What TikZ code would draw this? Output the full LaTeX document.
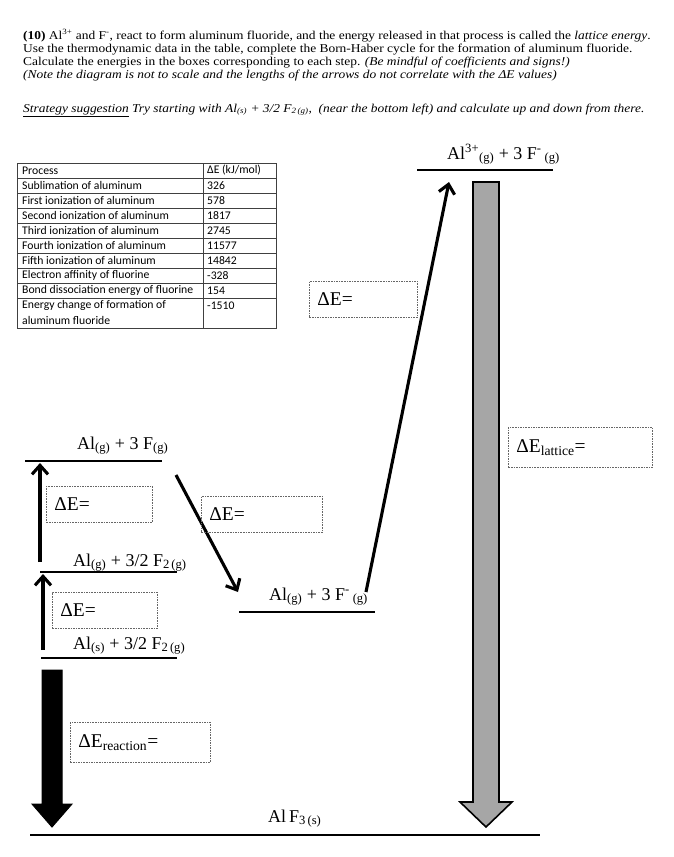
\documentclass[tikz,border=0pt]{standalone}
\usepackage{fontspec}
\setmainfont{Liberation Serif}
\newfontfamily\tabfont{Carlito}
\usetikzlibrary{arrows.meta}
\newcommand\hdrline[1]{\scalebox{1.12}[1]{#1}}
\begin{document}
\begin{tikzpicture}[x=1pt,y=-1pt,
  hdr/.style={anchor=base west,inner sep=0pt,font=\fontsize{12}{13}\selectfont},
  cell/.style={anchor=west,inner sep=0pt,font=\tabfont\fontsize{11.7}{13}\selectfont},
  grid/.style={draw=black!75,line width=0.7pt},
  level/.style={line width=2.4pt},
  lab/.style={anchor=base west,inner sep=0pt,font=\fontsize{18}{20}\selectfont},
  uparrow/.style={line width=3.1pt,-{Straight Barb[length=9pt,width=16pt]}},
  debox/.style={draw=black!60,dash pattern=on 1.6pt off 1pt,line width=0.7pt,
    anchor=north west,inner xsep=8pt,inner ysep=0pt,align=left,
    font=\fontsize{19.5}{21}\selectfont},
  bigblack/.style={fill=black,draw=black,line width=1pt},
  biggray/.style={fill=black!35,draw=black,line width=1.6pt,line join=miter}]
\useasboundingbox (0,0) rectangle (674,857);

% header
\node[hdr] (h1) at (23,39) {\hdrline{\textbf{(10)} Al\textsuperscript{3+} and F\textsuperscript{-}, react to form aluminum fluoride, and the energy released in that process is called the \textit{lattice energy}.}};
\node[hdr] (h2) at (23,52) {\hdrline{Use the thermodynamic data in the table, complete the Born-Haber cycle for the formation of aluminum fluoride.}};
\node[hdr] (h3) at (23,65) {\hdrline{Calculate the energies in the boxes corresponding to each step. \textit{(Be mindful of coefficients and signs!)}}};
\node[hdr] (h4) at (23,78) {\hdrline{\textit{(Note the diagram is not to scale and the lengths of the arrows do not correlate with the ΔE values)}}};
\node[hdr] (h5) at (23,112) {\hdrline{\textit{\underline{Strategy suggestion} Try starting with Al\textsubscript{(s)} + 3/2 F\textsubscript{2\,(g)},\ \ (near the bottom left) and calculate up and down from there.}}};

% table
\draw[grid] (17,163) rectangle (276,328);
\draw[grid] (203,163) -- (203,328);
\foreach \r in {1,...,9} {\draw[grid] (17,163+15*\r) -- (276,163+15*\r);}
\foreach \t [count=\i from 0] in {Process,Sublimation of aluminum,First ionization of aluminum,Second ionization of aluminum,Third ionization of aluminum,Fourth ionization of aluminum,Fifth ionization of aluminum,Electron affinity of fluorine,Bond dissociation energy of fluorine,Energy change of formation of}
  {\node[cell] (p\i) at (22,170.5+15*\i) {\t};}
\node[cell] (p10) at (22,320.5) {aluminum fluoride};
\foreach \t [count=\i from 0] in {ΔE (kJ/mol),326,578,1817,2745,11577,14842,-328,154,-1510}
  {\node[cell] (v\i) at (207,170.5+15*\i) {\t};}

% energy levels
\draw[level] (417,170) -- (553,170);
\draw[level] (25,461) -- (162,461);
\draw[level] (40,572) -- (177,572);
\draw[level] (41,658) -- (177,658);
\draw[level] (239,612) -- (375,612);
\draw[level] (30,835) -- (540,835);

\node[lab] (Ltop) at (447,159) {Al\textsuperscript{3+}\textsubscript{(g)} + 3 F\textsuperscript{-}\,\textsubscript{(g)}};
\node[lab] (Lagf) at (77,449) {Al\textsubscript{(g)} + 3 F\textsubscript{(g)}};
\node[lab] (Lagf2) at (73,566) {Al\textsubscript{(g)} + 3/2 F\textsubscript{2\,(g)}};
\node[lab] (Lasf2) at (73,649) {Al\textsubscript{(s)} + 3/2 F\textsubscript{2\,(g)}};
\node[lab] (Lagfm) at (269,600) {Al\textsubscript{(g)} + 3 F\textsuperscript{-}\,\textsubscript{(g)}};
\node[lab] (Lalf) at (268,822) {Al\,F\textsubscript{3\,(s)}};

% arrow endpoints
\coordinate (a1s) at (43,650); \coordinate (a1e) at (43,574);
\coordinate (a2s) at (40,562); \coordinate (a2e) at (40,463);
\coordinate (a3s) at (176,475); \coordinate (a3e) at (238,592);
\coordinate (a4s) at (366,592); \coordinate (a4e) at (449,182);
\draw[uparrow] (a1s) -- (a1e);
\draw[uparrow] (a2s) -- (a2e);
\draw[uparrow] (a3s) -- (a3e);
\draw[uparrow] (a4s) -- (a4e);

% big arrows
\draw[bigblack] (42,670) -- (62,670) -- (62,804) -- (72,804) -- (52,827) -- (32,804) -- (42,804) -- cycle;
\draw[biggray] (473,182) -- (499,182) -- (499,802) -- (512,802) -- (486,827) -- (460,802) -- (473,802) -- cycle;

% dashed boxes
\node[debox,minimum width=108pt,minimum height=36pt,text width=92pt] (b1) at (309,281) {ΔE=};
\node[debox,minimum width=106pt,minimum height=36pt,text width=90pt] (b2) at (46,486) {ΔE=};
\node[debox,minimum width=121pt,minimum height=36pt,text width=105pt] (b3) at (201,496) {ΔE=};
\node[debox,minimum width=105pt,minimum height=36pt,text width=89pt] (b4) at (52,592) {ΔE=};
\node[debox,minimum width=140pt,minimum height=40pt,text width=124pt] (b5) at (70,722) {ΔE\textsubscript{reaction}=};
\node[debox,minimum width=144pt,minimum height=40pt,text width=128pt] (b6) at (508,427) {ΔE\textsubscript{lattice}=};
\end{tikzpicture}
\end{document}
